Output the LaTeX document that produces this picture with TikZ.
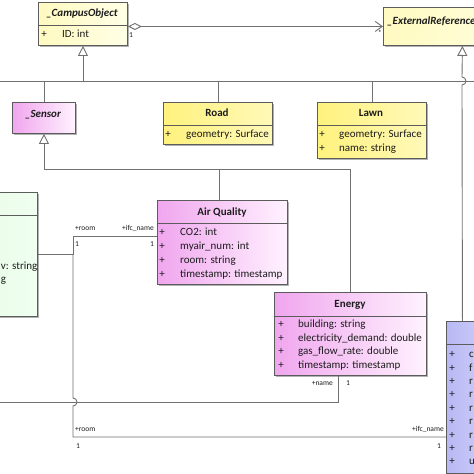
\documentclass[tikz,border=0pt]{standalone}
\usepackage{fontspec}
\setmainfont{Carlito}
\usetikzlibrary{arrows.meta,shadows}
\definecolor{bd}{HTML}{5C5C5C}
\definecolor{ln}{HTML}{707070}
\definecolor{tx}{HTML}{1C1C1C}
\definecolor{yelL}{HTML}{FFF27E}
\definecolor{yelR}{HTML}{FFF9B8}
\definecolor{paleL}{HTML}{FFFAC0}
\definecolor{paleR}{HTML}{FFFFE6}
\definecolor{pinkL}{HTML}{F0A6EE}
\definecolor{pinkR}{HTML}{FFF2FF}
\definecolor{bluL}{HTML}{B8B9F4}
\definecolor{bluR}{HTML}{C8C8F8}
\definecolor{grnL}{HTML}{E4FAE4}
\definecolor{grnR}{HTML}{F0FFF0}
\tikzset{
  umlbox/.style={draw=bd, line width=0.9pt, inner sep=0pt, anchor=north west,
    drop shadow={shadow xshift=1.3pt, shadow yshift=-1.3pt, opacity=0.3, fill=black}},
  yelbox/.style={umlbox, left color=yelL, right color=yelR},
  palebox/.style={umlbox, left color=paleL, right color=paleR},
  pinkbox/.style={umlbox, left color=pinkL, right color=pinkR},
  blubox/.style={umlbox, left color=bluL, right color=bluR},
  grnbox/.style={umlbox, left color=grnL, right color=grnR},
  divider/.style={draw=bd, line width=0.9pt},
  conn/.style={draw=ln, line width=0.9pt},
  txt/.style={text=tx, inner sep=0pt, text height=8pt, text depth=2.5pt, font=\fontsize{11}{13}\selectfont},
  ttl/.style={txt, font=\fontsize{11}{13}\selectfont\bfseries},
  ttlit/.style={txt, font=\fontsize{11}{13}\selectfont\bfseries\itshape},
  attr/.style={txt, anchor=west},
  plus/.style={txt},
  lbl/.style={text=tx, inner sep=0pt, font=\fontsize{7.5}{9}\selectfont, text height=5.5pt, text depth=1.5pt},
  gentip/.style={-{Triangle[open,length=10pt,width=10pt,fill=white]}},
}
\begin{document}
\begin{tikzpicture}[x=1pt,y=-1pt]
\useasboundingbox (0,0) rectangle (474,474);
\fill[white] (0,0) rectangle (474,474);
\clip (0,0) rectangle (474,474);

% ---------- boxes ----------
\node[palebox, minimum width=89pt, minimum height=43pt] (campus) at (38,2) {};
\draw[divider] (38,25) -- (127,25);
\node[ttlit] (campusT) at (82,14) {\_CampusObject};
\node[plus] (campusP) at (44,35) {+};
\node[attr] (campusA) at (62,35) {ID: int};

\node[palebox, minimum width=158pt, minimum height=38pt] (ext) at (383,7) {};
\node[ttlit, anchor=west] (extT) at (387,22) {\_ExternalReference};

\node[pinkbox, minimum width=63pt, minimum height=31pt] (sensor) at (12,102) {};
\node[ttlit] (sensorT) at (43,115) {\_Sensor};

\node[yelbox, minimum width=109pt, minimum height=42pt] (road) at (163,102) {};
\draw[divider] (163,125) -- (272,125);
\node[ttl] (roadT) at (217,114) {Road};
\node[plus] (roadP1) at (168,135) {+};
\node[attr] (roadA1) at (186,135) {geometry: Surface};

\node[yelbox, minimum width=109pt, minimum height=56pt] (lawn) at (317,102) {};
\draw[divider] (317,125) -- (426,125);
\node[ttl] (lawnT) at (371,114) {Lawn};
\node[plus] (lawnP1) at (322,135) {+};
\node[attr] (lawnA1) at (339,135) {geometry: Surface};
\node[plus] (lawnP2) at (322,149) {+};
\node[attr] (lawnA2) at (339,149) {name: string};

\node[grnbox, minimum width=97pt, minimum height=124pt] (green) at (-60,192) {};
\draw[divider] (-60,215) -- (37,215);
\node[txt, anchor=west] (greenA1) at (0.8,267) {v: string};
\node[txt, anchor=west] (greenA2) at (0.8,280) {g};

\node[pinkbox, minimum width=130pt, minimum height=84pt] (aq) at (157,200) {};
\draw[divider] (157,223) -- (287,223);
\node[ttl] (aqT) at (222,213) {Air Quality};
\node[plus] (aqP1) at (162,233) {+};
\node[attr] (aqA1) at (180,233) {CO2: int};
\node[plus] (aqP2) at (162,247) {+};
\node[attr] (aqA2) at (180,247) {myair\_num: int};
\node[plus] (aqP3) at (162,261) {+};
\node[attr] (aqA3) at (180,261) {room: string};
\node[plus] (aqP4) at (162,275) {+};
\node[attr] (aqA4) at (180,275) {timestamp: timestamp};

\node[pinkbox, minimum width=152pt, minimum height=83pt] (energy) at (274,292) {};
\draw[divider] (274,316) -- (426,316);
\node[ttl] (energyT) at (350,305) {Energy};
\node[plus] (enP1) at (281,325) {+};
\node[attr] (enA1) at (298,325) {building: string};
\node[plus] (enP2) at (281,339) {+};
\node[attr] (enA2) at (298,339) {electricity\_demand: double};
\node[plus] (enP3) at (281,352) {+};
\node[attr] (enA3) at (298,352) {gas\_flow\_rate: double};
\node[plus] (enP4) at (281,366) {+};
\node[attr] (enA4) at (298,366) {timestamp: timestamp};

\node[blubox, minimum width=32pt, minimum height=152pt] (blue) at (446,321) {};
\draw[divider] (446,344) -- (478,344);
\foreach \l [count=\i from 0] in {c,f,r,r,r,r,r,r,u} {
  \node[plus] (bluP\i) at (452,355+13.4*\i) {+};
  \node[attr] (bluA\i) at (469,355+13.4*\i) {\l};
}

% ---------- connectors ----------
\coordinate (bus) at (0,81);
\coordinate (busW) at (-2,81);
\coordinate (busE) at (476,81);
\draw[conn] (busW) -- (busE);
\draw[conn, gentip] (campus.south |- bus) -- (campus.south);
\draw[conn] (sensor.north) -- (sensor.north |- bus);
\draw[conn] (road.north) -- (road.north |- bus);
\draw[conn] (lawn.north) -- (lawn.north |- bus);

\coordinate (hopE) at (462,85);
\draw[conn, gentip] (blue.north) -- (hopE) arc[start angle=90, end angle=-90, radius=4] -- (ext.south);

\draw[conn, {Diamond[open,length=14pt,width=7pt,fill=white]}-{Straight Barb[length=7pt,width=10pt]}]
  (campus.east |- ext.west) -- (ext.west);

\coordinate (sb) at (0,169);
\coordinate (aqTop) at ([xshift=62pt]aq.north west);
\draw[conn, gentip] (energy.north) |- (sensor.south |- sb) -- (sensor.south);
\draw[conn] (aqTop) -- (aqTop |- sb);

\coordinate (j1) at (73,236);
\draw[conn] (green.east) -- (green.east -| j1) -- (j1) -- (aq.west |- j1);

\coordinate (hopA) at (73,398);
\coordinate (j2) at (73,437);
\draw[conn] (green.east -| j1) -- (hopA) arc[start angle=-90, end angle=90, radius=4] -- (j2) -- (blue.west |- j2);

\coordinate (enB) at ([xshift=64pt]energy.south west);
\coordinate (a3L) at (-2,402);
\draw[conn] (enB) |- (a3L);

% ---------- labels ----------
\node[lbl, anchor=west] (l1) at (75,228) {+room};
\node[lbl, anchor=west] (l2) at (75,244) {1};
\node[lbl, anchor=east] (l3) at (154,228) {+ifc\_name};
\node[lbl, anchor=east] (l4) at (154,244) {1};
\node[lbl, anchor=west] (l5) at (75,429) {+room};
\node[lbl, anchor=west] (l6) at (76,446) {1};
\node[lbl, anchor=east] (l7) at (444,429) {+ifc\_name};
\node[lbl, anchor=east] (l8) at (441,446) {1};
\node[lbl, anchor=east] (l9) at (333,383) {+name};
\node[lbl, anchor=west] (l10) at (346,383) {1};
\node[lbl, anchor=west] (l11) at (129,35) {1};
\node[lbl] (l12) at (380,33) {*};
\end{tikzpicture}
\end{document}
